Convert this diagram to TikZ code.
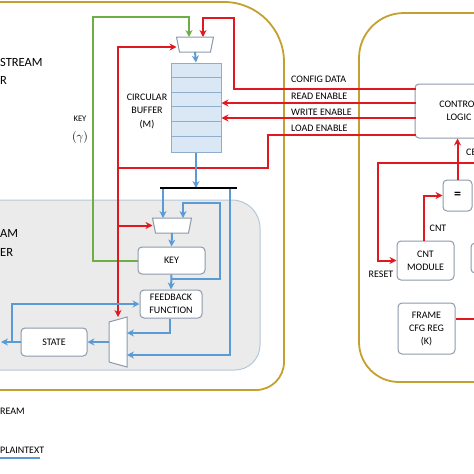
\documentclass[tikz,border=0pt]{standalone}
\usepackage{fontspec}
\setmainfont{Carlito}
\usetikzlibrary{calc,arrows.meta}
\definecolor{sigred}{RGB}{226,24,32}
\definecolor{sigblue}{RGB}{91,155,213}
\definecolor{siggreen}{RGB}{112,173,71}
\definecolor{goldframe}{RGB}{196,160,48}
\definecolor{boxline}{RGB}{140,154,171}
\definecolor{buffill}{RGB}{218,232,245}
\definecolor{bufline}{RGB}{143,174,203}
\definecolor{regfill}{RGB}{235,235,235}
\definecolor{regline}{RGB}{180,199,218}

\begin{document}
\begin{tikzpicture}[x=1pt, y=-1pt,
	sred/.style={draw=sigred, line width=2pt, -{Stealth[length=7pt,width=7pt]}},
	sblue/.style={draw=sigblue, line width=2pt, -{Stealth[length=7pt,width=7pt]}},
	sgreen/.style={draw=siggreen, line width=2pt, -{Stealth[length=7pt,width=7pt]}},
	blk/.style={draw=boxline, fill=white, rounded corners=4pt, line width=1pt, align=center, inner sep=0pt, font=\fontsize{10}{13}\selectfont},
	muxbox/.style={inner sep=0pt, outer sep=0pt},
	muxline/.style={draw=boxline, fill=white, line width=1pt},
	lbl/.style={inner sep=0pt, align=center, font=\fontsize{10}{13.5}\selectfont},
	big/.style={inner sep=0pt, anchor=west, font=\fontsize{12.5}{14}\selectfont}]
			%%%%% START %%%%%
			\useasboundingbox (0,0) rectangle (474,474);
			
			\draw[goldframe, line width=1.8pt] (-20,2) -- (224,2) arc[start angle=-90, end angle=0, radius=60] -- (284,362) arc[start angle=0, end angle=90, radius=28] -- (-20,390);
			\draw[goldframe, line width=1.8pt] (520,13) -- (404,13) arc[start angle=-90, end angle=-180, radius=45] -- (359,342) arc[start angle=180, end angle=90, radius=40] -- (520,382);
			\draw[regline, fill=regfill, line width=1pt] (-20,200) -- (232,200) arc[start angle=-90, end angle=0, radius=28] -- (260,345) arc[start angle=0, end angle=90, radius=25] -- (-20,370) -- cycle;
			
			\node[big] at (0,62) {STREAM};
			\node[big] at (0,80) {R};
			\node[big] at (0,233) {AM};
			\node[big] at (0,252) {ER};
			\node[lbl, anchor=west] at (0,411) {REAM};
			\node[lbl, anchor=west] (pt) at (0,450) {PLAINTEXT};
			\draw[sigblue, line width=1.8pt] (-5,458) -- (40,458);
			
			\node[lbl, font=\fontsize{8.5}{9}\selectfont] at (80,119) {KEY};
			\node[inner sep=0pt, font=\fontsize{13}{14}\selectfont] at (80,137) {$(\gamma)$};
			\node[lbl] at (147,111) {CIRCULAR\\BUFFER\\(M)};
			
			% muxes, buffer, blocks
			\node[muxbox, minimum width=37pt, minimum height=15pt] (mtop) at (195,44.5) {};
			\draw[muxline] (mtop.north west) -- (mtop.north east) -- ($(mtop.south east)+(-3,0)$) -- ($(mtop.south west)+(3,0)$) -- cycle;
			\node[draw=bufline, fill=buffill, line width=1pt, minimum width=50pt, minimum height=89pt, inner sep=0pt] (buf) at (196,107.5) {};
			\foreach \k in {1,...,5}
				\draw[bufline, line width=1pt] ($(buf.north west)+(0,14.83*\k)$) -- ++(50,0);
			\node[muxbox, minimum width=39pt, minimum height=15pt] (mmid) at (172,225.5) {};
			\draw[muxline] (mmid.north west) -- (mmid.north east) -- ($(mmid.south east)+(-3,0)$) -- ($(mmid.south west)+(3,0)$) -- cycle;
			\node[blk, minimum width=67pt, minimum height=27pt] (key) at (171.5,260.5) {KEY};
			\node[blk, minimum width=62pt, minimum height=28pt] (ff) at (171,304) {FEEDBACK\\FUNCTION};
			\node[muxbox, minimum width=18pt, minimum height=50pt] (mbot) at (118,342) {};
			\draw[muxline] (mbot.north east) -- (mbot.south east) -- ($(mbot.south west)+(0,-5)$) -- ($(mbot.north west)+(0,5)$) -- cycle;
			\node[blk, minimum width=66pt, minimum height=28pt] (st) at (54,342) {STATE};
			
			\node[blk, minimum width=88pt, minimum height=54pt] (ctl) at (459,111) {CONTROL\\LOGIC};
			\node[blk, minimum width=29pt, minimum height=31pt, font=\fontsize{14}{14}\selectfont\bfseries] (eq) at (457.5,195.5) {=};
			\node[blk, minimum width=57pt, minimum height=39pt] (cnt) at (425.5,260.5) {CNT\\MODULE};
			\node[blk, minimum width=44pt, minimum height=30pt] (nx) at (493,258) {};
			\node[blk, minimum width=57pt, minimum height=51pt] (frm) at (426.5,328.5) {FRAME\\CFG REG\\(K)};
			
			% signal names
			\node[lbl, anchor=west] at (291,79) {CONFIG DATA};
			\node[lbl, anchor=west] at (291,96) {READ ENABLE};
			\node[lbl, anchor=west] at (291,112) {WRITE ENABLE};
			\node[lbl, anchor=west] at (291,128) {LOAD ENABLE};
			\node[lbl, anchor=west] at (466,152) {CE};
			\node[lbl] at (381,274) {RESET};
			\node[lbl] at (438,228) {CNT};
			
			% green key path
			\coordinate (g1) at (93,17);
			\draw[sgreen] (key.west) -| (g1) -| ($(mtop.north)+(-6,0)$);
			
			% red control lines
			\coordinate (cfgS) at (416,89);
			\coordinate (rdS) at (416,103);
			\coordinate (wrS) at (416,118);
			\coordinate (ldS) at (416,135);
			\coordinate (cfgK) at (234,18);
			\coordinate (ldK) at (268,168);
			\coordinate (ldJ) at (118,168);
			\draw[sred] (cfgS) -| (cfgK) -| ($(mtop.north)+(8,0)$);
			\draw[sred] (rdS) -- (rdS -| buf.east);
			\draw[sred] (wrS) -- (wrS -| buf.east);
			\draw[sred] (ldS) -| (ldK) -- (ldJ) -- (ldJ |- mbot.north);
			\draw[sred] (ldJ) |- ($(mtop.west)+(0,2.5)$);
			\draw[sred] (ldJ) |- (mmid.west);
			
			% blue data path
			\coordinate (busL) at (160,188);
			\coordinate (busR) at (237,188);
			\coordinate (miA) at ($(mmid.north)+(-9,0)$);
			\coordinate (miB) at ($(mmid.north)+(11,0)$);
			\coordinate (fbK) at (220,203);
			\coordinate (outL) at (1,342);
			\coordinate (stJ) at (12,342);
			\draw[sblue] (mtop.south) -- (buf.north);
			\draw[sblue] (buf.south) -- (buf.south |- busL);
			\draw[sblue] (miA |- busL) -- (miA);
			\draw[sblue] (busR) ++(-7,0) |- ($(mbot.east)+(0,13)$);
			\draw[sblue] (mmid.south) -- (key.north);
			\draw[sblue] (key.south) -- (ff.north);
			\draw[sblue] ($(key.south)+(0,4)$) -| (fbK) -| (miB);
			\draw[sblue] ($(ff.south)+(-1,0)$) |- ($(mbot.east)+(0,-9)$);
			\draw[sblue] (mbot.west) -- (st.east);
			\draw[sblue] (st.west) -- (outL);
			\draw[sblue] (stJ) |- (ff.west);
			\draw[line width=2.4pt] (busL) -- (busR);
			
			% right side
			\coordinate (rsR) at (480,163);
			\coordinate (rsK) at (378,163);
			\draw[sred] (eq.north) -- (eq.north |- ctl.south);
			\draw[sred] (rsR) -- (rsK) |- (cnt.west);
			\draw[sred] ($(cnt.north)+(-1.5,0)$) |- (eq.west);
			\draw[sigred, line width=2pt] ($(frm.east)+(0,-10)$) -- ++(40,0);
			%%%%% END %%%%%
\end{tikzpicture}
\end{document}
